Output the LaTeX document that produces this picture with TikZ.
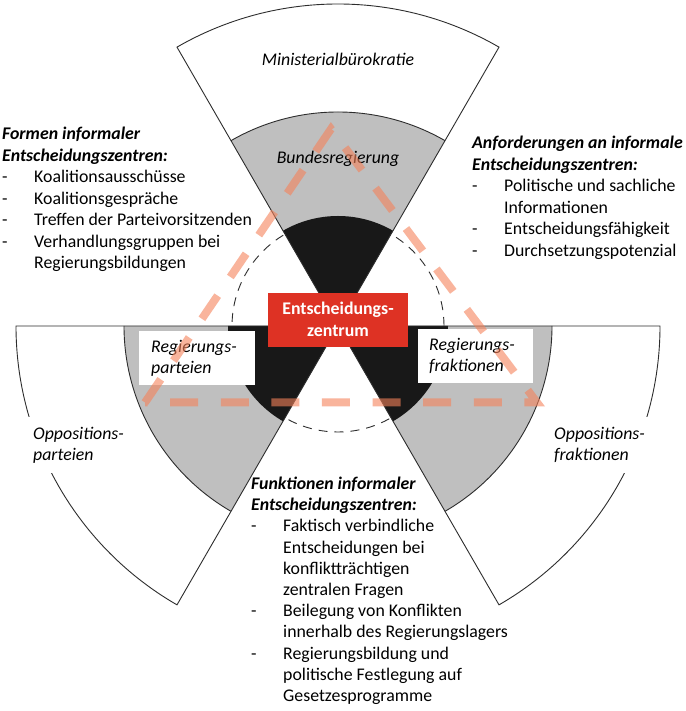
\documentclass[tikz,border=0pt]{standalone}
\usepackage{fontspec}
\setmainfont{Carlito}
\usetikzlibrary{calc}
\definecolor{wedgegray}{RGB}{191,191,191}
\definecolor{wedgeblack}{RGB}{24,24,24}
\definecolor{centerred}{RGB}{222,50,36}
\definecolor{trisalmon}{RGB}{245,130,90}
\definecolor{edgegray}{RGB}{45,45,45}
\newcommand\wedgepiece[2]{%
  \fill[white] (C) -- ($(C)+(#1:322)$) arc[start angle=#1, end angle=#2, radius=322] -- cycle;
  \fill[wedgegray] (C) -- ($(C)+(#1:214)$) arc[start angle=#1, end angle=#2, radius=214] -- cycle;
  \fill[wedgeblack] (C) -- ($(C)+(#1:110)$) arc[start angle=#1, end angle=#2, radius=110] -- cycle;
  \draw[edgeline] (C) -- ($(C)+(#1:322)$) arc[start angle=#1, end angle=#2, radius=322] -- cycle;
  \draw[edgeline] ($(C)+(#1:214)$) arc[start angle=#1, end angle=#2, radius=214];
}
\newcommand\listdash[1]{\makebox[32pt][l]{-}#1}
\newcommand\listcont[1]{\hspace*{32pt}#1}
\begin{document}
\begin{tikzpicture}[x=1pt,y=1pt,
  edgeline/.style={draw=edgegray, line width=0.9pt, line join=miter},
  italabel/.style={inner sep=0pt, align=left, anchor=base west, font=\fontsize{17.8}{21}\selectfont\itshape},
  listblock/.style={inner sep=0pt, align=left, anchor=base west, font=\fontsize{17.8}{21.5}\selectfont},
  whitebox/.style={fill=white, draw=none, inner sep=0pt, anchor=south west},
]
\useasboundingbox (0,0) rectangle (685,711);
\fill[white] (0,0) rectangle (685,711);
\coordinate (C) at (338,385);
\draw[edgegray, line width=0.9pt, dash pattern=on 9pt off 7pt] (C) circle[radius=106];
\wedgepiece{60}{120}
\wedgepiece{180}{240}
\wedgepiece{300}{360}

% cover boxes and label boxes
\node[whitebox, minimum width=105pt, minimum height=56pt] (oppLbox) at (25,238) {};
\node[whitebox, minimum width=102pt, minimum height=56pt] (oppRbox) at (550,238) {};
\node[whitebox, minimum width=116pt, minimum height=54pt] (rpbox) at (139,326) {};
\node[whitebox, minimum width=115pt, minimum height=54pt] (rfbox) at (418,328) {};
\node[whitebox, fill=centerred, minimum width=140pt, minimum height=54pt] (redbox) at (268,364) {};

% labels (anchor base = baseline of last line)
\node[italabel, anchor=base] (minist) at (338,645) {Ministerialbürokratie};
\node[italabel, anchor=base] (bundes) at (338,547) {Bundesregierung};
\node[inner sep=0pt, align=center, anchor=base, text=white, font=\fontsize{17.8}{22}\selectfont\bfseries] (redtxt) at (338,374) {Entscheidungs-\\zentrum};
\node[italabel] (rptxt) at (151,337) {Regierungs-\\parteien};
\node[italabel] (rftxt) at (429,339) {Regierungs-\\fraktionen};
\node[italabel] (opptxtL) at (33,250) {Oppositions-\\parteien};
\node[italabel] (opptxtR) at (554,250) {Oppositions-\\fraktionen};

% dashed triangle
\coordinate (apex) at (331,582);
\coordinate (tbl) at (145,308.5);
\coordinate (tbr) at (537,308.5);
\draw[trisalmon, opacity=0.6, line width=8pt, dash pattern=on 28pt off 22.6pt, line join=miter] (tbl) -- (apex) -- (tbr) -- cycle;

% text blocks
\node[listblock] (formen) at (2,442) {%
{\bfseries\itshape Formen informaler}\\
{\bfseries\itshape Entscheidungszentren:}\\
\listdash{Koalitionsausschüsse}\\
\listdash{Koalitionsgespräche}\\
\listdash{Treffen der Parteivorsitzenden}\\
\listdash{Verhandlungsgruppen bei}\\
\listcont{Regierungsbildungen}};

\node[listblock] (anford) at (472,454.5) {%
{\bfseries\itshape Anforderungen an informale}\\
{\bfseries\itshape Entscheidungszentren:}\\
\listdash{Politische und sachliche}\\
\listcont{Informationen}\\
\listdash{Entscheidungsfähigkeit}\\
\listdash{Durchsetzungspotenzial}};

\node[listblock, font=\fontsize{17.8}{21.2}\selectfont] (funkt) at (251,9.5) {%
{\bfseries\itshape Funktionen informaler}\\
{\bfseries\itshape Entscheidungszentren:}\\
\listdash{Faktisch verbindliche}\\
\listcont{Entscheidungen bei}\\
\listcont{konfliktträchtigen}\\
\listcont{zentralen Fragen}\\
\listdash{Beilegung von Konflikten}\\
\listcont{innerhalb des Regierungslagers}\\
\listdash{Regierungsbildung und}\\
\listcont{politische Festlegung auf}\\
\listcont{Gesetzesprogramme}};
\end{tikzpicture}
\end{document}
